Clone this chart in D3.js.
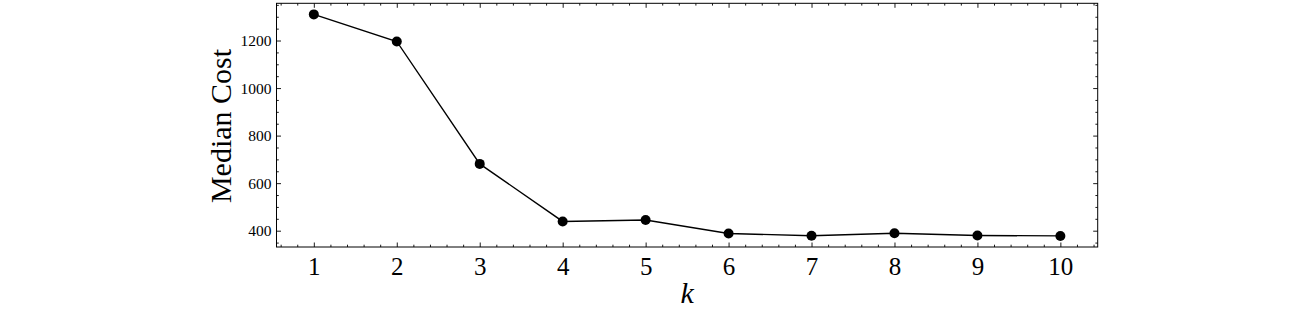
<!DOCTYPE html>
<html>
<head>
<meta charset="utf-8">
<script src="https://cdn.jsdelivr.net/npm/d3@7"></script>
<style>
  body { margin: 0; background: #fff; }
  svg { display: block; }
  text { font-family: "Liberation Serif", "DejaVu Serif", serif; fill: #000; }
</style>
</head>
<body>
<div id="chart"></div>
<script>
// Data
const kValues = [1, 2, 3, 4, 5, 6, 7, 8, 9, 10];
const medianCost = [1310, 1196, 681, 439, 445, 388, 379, 389, 380, 378];
const yTicks = [400, 600, 800, 1000, 1200];

const W = 1305, H = 329;
const plot = {left: 276.5, right: 1097.7, top: 3.3, bottom: 247};

const svg = d3.select("#chart").append("svg")
  .attr("width", W)
  .attr("height", H);

// matplotlib-like 5% margins
const xMin = d3.min(kValues), xMax = d3.max(kValues);
const xPad = (xMax - xMin) * 0.05;
const yMin = d3.min(medianCost), yMax = d3.max(medianCost);
const yPad = (yMax - yMin) * 0.05;

const x = d3.scaleLinear()
  .domain([xMin - xPad, xMax + xPad])
  .range([plot.left, plot.right]);

const y = d3.scaleLinear()
  .domain([yMin - yPad, yMax + yPad])
  .range([plot.bottom, plot.top]);

const xMinor = d3.range(0.6, 10.45, 0.2).filter(v => Math.abs(v - Math.round(v)) > 0.01);
const yMinor = d3.range(350, 1360, 50).filter(v => v % 200 !== 0);

function styleAxis(g) {
  g.select(".domain").remove();
  g.selectAll(".tick line").attr("stroke", "#000").attr("stroke-width", 0.9);
}

// bottom axis (labels)
svg.append("g")
  .attr("transform", `translate(0,${plot.bottom})`)
  .call(d3.axisBottom(x).tickValues(kValues).tickSize(-4.5).tickPadding(9).tickFormat(d3.format("d")))
  .call(styleAxis)
  .call(g => g.selectAll("text").attr("font-size", "25px").attr("dy", "0.75em"));
svg.append("g")
  .attr("transform", `translate(0,${plot.bottom})`)
  .call(d3.axisBottom(x).tickValues(xMinor).tickSize(-2.3).tickFormat(""))
  .call(styleAxis);

// top axis (ticks only)
svg.append("g")
  .attr("transform", `translate(0,${plot.top})`)
  .call(d3.axisTop(x).tickValues(kValues).tickSize(-4.5).tickFormat(""))
  .call(styleAxis);
svg.append("g")
  .attr("transform", `translate(0,${plot.top})`)
  .call(d3.axisTop(x).tickValues(xMinor).tickSize(-2.3).tickFormat(""))
  .call(styleAxis);

// left axis (labels)
svg.append("g")
  .attr("transform", `translate(${plot.left},0)`)
  .call(d3.axisLeft(y).tickValues(yTicks).tickSize(-4.5).tickPadding(5).tickFormat(d3.format("d")))
  .call(styleAxis)
  .call(g => g.selectAll("text").attr("font-size", "15.5px"));
svg.append("g")
  .attr("transform", `translate(${plot.left},0)`)
  .call(d3.axisLeft(y).tickValues(yMinor).tickSize(-2.3).tickFormat(""))
  .call(styleAxis);

// right axis (ticks only)
svg.append("g")
  .attr("transform", `translate(${plot.right},0)`)
  .call(d3.axisRight(y).tickValues(yTicks).tickSize(-4.5).tickFormat(""))
  .call(styleAxis);
svg.append("g")
  .attr("transform", `translate(${plot.right},0)`)
  .call(d3.axisRight(y).tickValues(yMinor).tickSize(-2.3).tickFormat(""))
  .call(styleAxis);

// frame
svg.append("rect")
  .attr("x", plot.left)
  .attr("y", plot.top)
  .attr("width", plot.right - plot.left)
  .attr("height", plot.bottom - plot.top)
  .attr("fill", "none")
  .attr("stroke", "#000")
  .attr("stroke-width", 1);

// line + markers
const pts = kValues.map((k, i) => ({k: k, v: medianCost[i]}));
const line = d3.line().x(d => x(d.k)).y(d => y(d.v));

svg.append("path")
  .datum(pts)
  .attr("d", line)
  .attr("fill", "none")
  .attr("stroke", "#000")
  .attr("stroke-width", 1.4);

svg.selectAll("circle.pt")
  .data(pts)
  .enter()
  .append("circle")
  .attr("class", "pt")
  .attr("cx", d => x(d.k))
  .attr("cy", d => y(d.v))
  .attr("r", 5)
  .attr("fill", "#000");

// axis labels
svg.append("text")
  .attr("transform", `translate(231,126) rotate(-90)`)
  .attr("text-anchor", "middle")
  .attr("font-size", "30px")
  .text("Median Cost");

svg.append("text")
  .attr("x", (plot.left + plot.right) / 2)
  .attr("y", 303)
  .attr("text-anchor", "middle")
  .attr("font-size", "30px")
  .attr("font-style", "italic")
  .text("k");
</script>
</body>
</html>
